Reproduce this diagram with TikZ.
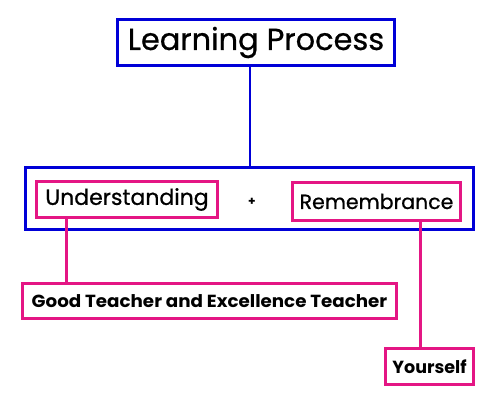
\documentclass[tikz,border=0pt]{standalone}
\usepackage{fontspec}
\setmainfont{Poppins}
\newfontfamily\medfont{Poppins}[FakeBold=0.7]
\usetikzlibrary{calc}
\definecolor{bxblue}{RGB}{0,0,215}
\definecolor{bxpink}{RGB}{228,22,132}
\begin{document}
\begin{tikzpicture}[x=1pt,y=1pt,
  bluebox/.style={draw=bxblue,line width=2.8pt,inner sep=0pt,fill=none},
  pinkbox/.style={draw=bxpink,line width=2.8pt,inner sep=0pt},
  blueline/.style={draw=bxblue,line width=2.8pt},
  pinkline/.style={draw=bxpink,line width=2.8pt}]
\useasboundingbox[fill=white] (0,0) rectangle (495,405);
\node[bluebox,minimum width=277,minimum height=46] (lp) at (256,362.5)
  {\medfont\fontsize{30.4}{32}\selectfont Learning Process};
\node[bluebox,minimum width=448,minimum height=62] (big) at (249.5,206.5) {};
\node[pinkbox,minimum width=181,minimum height=36] (und) at (127,205.5)
  {\medfont\fontsize{22}{24}\selectfont Understanding};
\node[pinkbox,minimum width=168,minimum height=38] (rem) at (376.5,203.5)
  {\medfont\fontsize{20.5}{24}\selectfont Remembrance};
\node (plus) at (252,203) {\fontsize{12}{14}\selectfont\bfseries +};
\node[pinkbox,minimum width=374,minimum height=35] (good) at (209.5,104)
  {\fontsize{17.5}{18}\selectfont\bfseries\scalebox{1.044}[1]{Good Teacher and Excellence Teacher}};
\node[pinkbox,minimum width=88,minimum height=36] (you) at (429.5,38.5)
  {\fontsize{17.5}{18}\selectfont\bfseries Yourself};
\draw[blueline] (big.north -| 250,0) -- (lp.south -| 250,0);
\coordinate (ua) at ($(und.south west)+(31.5,0)$);
\draw[pinkline] (ua) -- (ua |- good.north);
\coordinate (ra) at ($(rem.south west)+(129,0)$);
\draw[pinkline] (ra) -- (ra |- you.north);
\end{tikzpicture}
\end{document}
